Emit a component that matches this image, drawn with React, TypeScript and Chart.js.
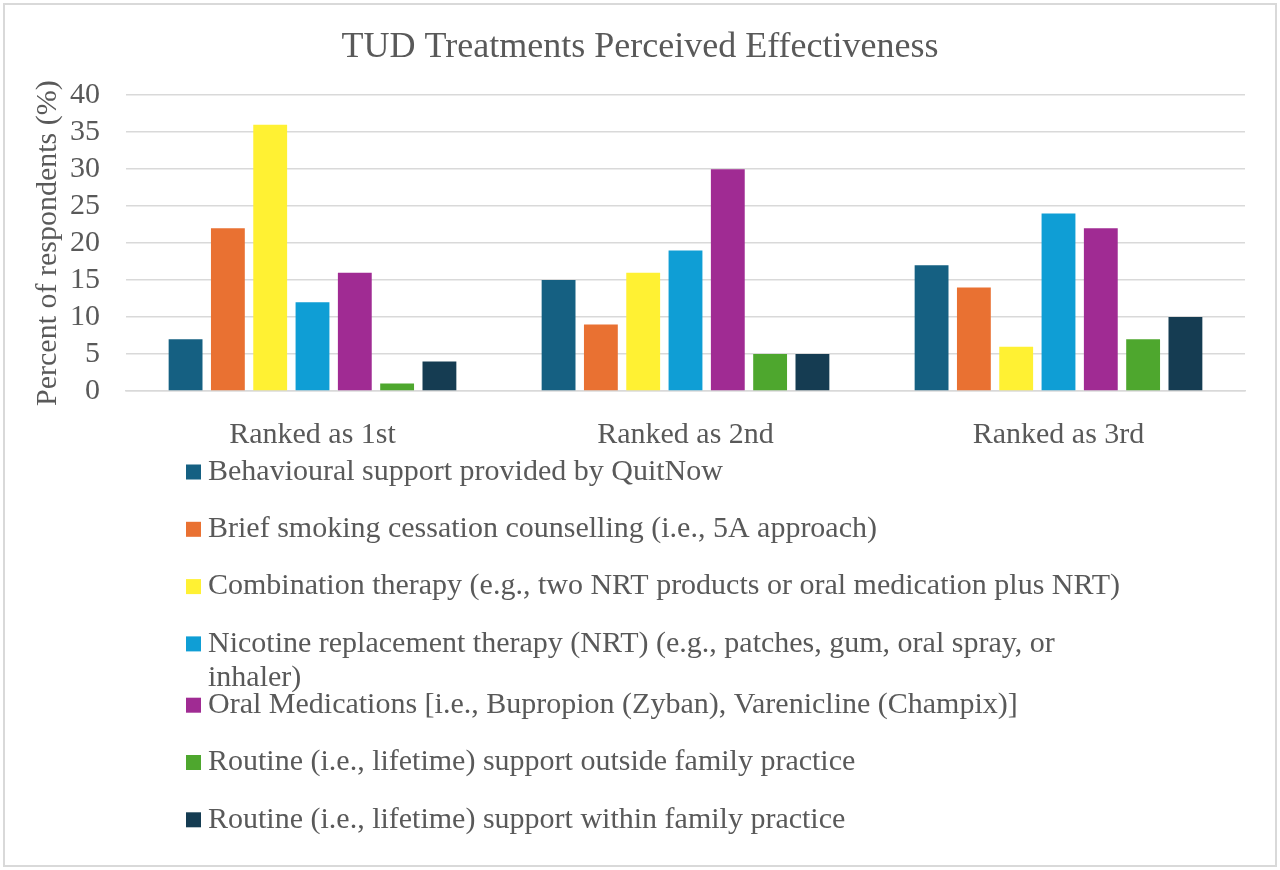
import React, { useEffect, useRef } from "react";
import { Chart, registerables } from "chart.js";

Chart.register(...registerables);

const categories = ["Ranked as 1st", "Ranked as 2nd", "Ranked as 3rd"];

const seriesNames = [
    "Behavioural support provided by QuitNow",
    "Brief smoking cessation counselling (i.e., 5A approach)",
    "Combination therapy (e.g., two NRT products or oral medication plus NRT)",
    "Nicotine replacement therapy (NRT) (e.g., patches, gum, oral spray, or inhaler)",
    "Oral Medications [i.e., Bupropion (Zyban), Varenicline (Champix)]",
    "Routine (i.e., lifetime) support outside family practice",
    "Routine (i.e., lifetime) support within family practice",
];

const behavioural = [7, 15, 17];
const briefCounselling = [22, 9, 14];
const combination = [36, 16, 6];
const nrt = [12, 19, 24];
const oralMeds = [16, 30, 22];
const routineOutside = [1, 5, 7];
const routineWithin = [4, 5, 10];

const seriesColors = ["#156082", "#E97132", "#FFF133", "#0F9ED5", "#A02B93", "#4EA72E", "#153C52"];

const yTicks = [0, 5, 10, 15, 20, 25, 30, 35, 40];

const SERIF = "'Liberation Serif', 'Times New Roman', serif";
const TEXT_GREY = "#595959";

// legend drawn as a vertical list below the plot, like the Excel original
const listLegend = {
    id: "listLegend",
    afterDraw(chart: Chart) {
        const ctx = chart.ctx;
        const x0 = 186;
        let y = 472;
        const box = 15;
        const textX = 208;
        const maxWidth = 920;
        ctx.save();
        ctx.font = `30px ${SERIF}`;
        ctx.textBaseline = "middle";
        ctx.textAlign = "left";
        chart.data.datasets.forEach((ds) => {
            const words = String(ds.label).split(" ");
            const lines: string[] = [];
            let cur = "";
            words.forEach((w) => {
                const test = cur ? cur + " " + w : w;
                if (ctx.measureText(test).width > maxWidth && cur) {
                    lines.push(cur);
                    cur = w;
                } else cur = test;
            });
            lines.push(cur);
            ctx.fillStyle = ds.backgroundColor as string;
            ctx.fillRect(x0, y - box / 2, box, box);
            ctx.fillStyle = TEXT_GREY;
            lines.forEach((ln, i) => ctx.fillText(ln, textX, y + i * 34));
            y += 57.3 + (lines.length - 1) * 4;
        });
        ctx.restore();
    },
};

const frame = {
    id: "frame",
    beforeDraw(chart: Chart) {
        const ctx = chart.ctx;
        ctx.save();
        ctx.fillStyle = "#ffffff";
        ctx.fillRect(0, 0, chart.width, chart.height);
        ctx.strokeStyle = "#d9d9d9";
        ctx.lineWidth = 2;
        ctx.strokeRect(4, 4, chart.width - 8, chart.height - 8);
        ctx.restore();
    },
};

export default function App() {
    const chartRef = useRef<HTMLCanvasElement>(null);

    useEffect(() => {
        if (!chartRef.current) return;
        const values = [behavioural, briefCounselling, combination, nrt, oralMeds, routineOutside, routineWithin];

        const chart = new Chart(chartRef.current, {
            type: "bar",
            data: {
                labels: categories,
                datasets: values.map((v, i) => ({
                    label: seriesNames[i],
                    data: v,
                    backgroundColor: seriesColors[i],
                    borderWidth: 0,
                    categoryPercentage: 0.794,
                    barPercentage: 0.8,
                })),
            },
            options: {
                responsive: false,
                animation: false,
                devicePixelRatio: 1,
                layout: { padding: 0 },
                plugins: {
                    legend: { display: false },
                    tooltip: { enabled: false },
                    title: {
                        display: true,
                        text: "TUD Treatments Perceived Effectiveness",
                        color: TEXT_GREY,
                        font: { family: SERIF, size: 36, weight: "normal" },
                        padding: { top: 26, bottom: 26 },
                    },
                },
                scales: {
                    x: {
                        grid: { display: false },
                        border: { display: true, color: "#d9d9d9", width: 1.5 },
                        ticks: {
                            color: TEXT_GREY,
                            font: { family: SERIF, size: 30 },
                            padding: 18,
                            maxRotation: 0,
                        },
                        afterFit: (axis: any) => {
                            axis.height = 479;
                        },
                    },
                    y: {
                        min: 0,
                        max: 40,
                        afterBuildTicks: (axis: any) => {
                            axis.ticks = yTicks.map((v) => ({ value: v }));
                        },
                        grid: { color: "#d9d9d9", lineWidth: 1.5, drawTicks: false },
                        border: { display: false },
                        ticks: {
                            color: TEXT_GREY,
                            font: { family: SERIF, size: 30 },
                            padding: 26,
                            autoSkip: false,
                        },
                        title: {
                            display: true,
                            text: "Percent of respondents (%)",
                            color: TEXT_GREY,
                            font: { family: SERIF, size: 30, weight: "normal" },
                            padding: { top: 30, bottom: 0 },
                        },
                        afterFit: (axis: any) => {
                            axis.width = 126;
                        },
                    },
                    // empty right-hand axis, only keeps the right margin
                    yRight: {
                        position: "right",
                        grid: { display: false },
                        border: { display: false },
                        ticks: { display: false },
                        afterFit: (axis: any) => {
                            axis.width = 35;
                        },
                    },
                },
            },
            plugins: [frame, listLegend],
        });

        return () => chart.destroy();
    }, []);

    return (
        <div style={{ position: "absolute", left: 0, top: 0, width: 1280, height: 870, background: "#fff" }}>
            <canvas ref={chartRef} width={1280} height={870} />
        </div>
    );
}
